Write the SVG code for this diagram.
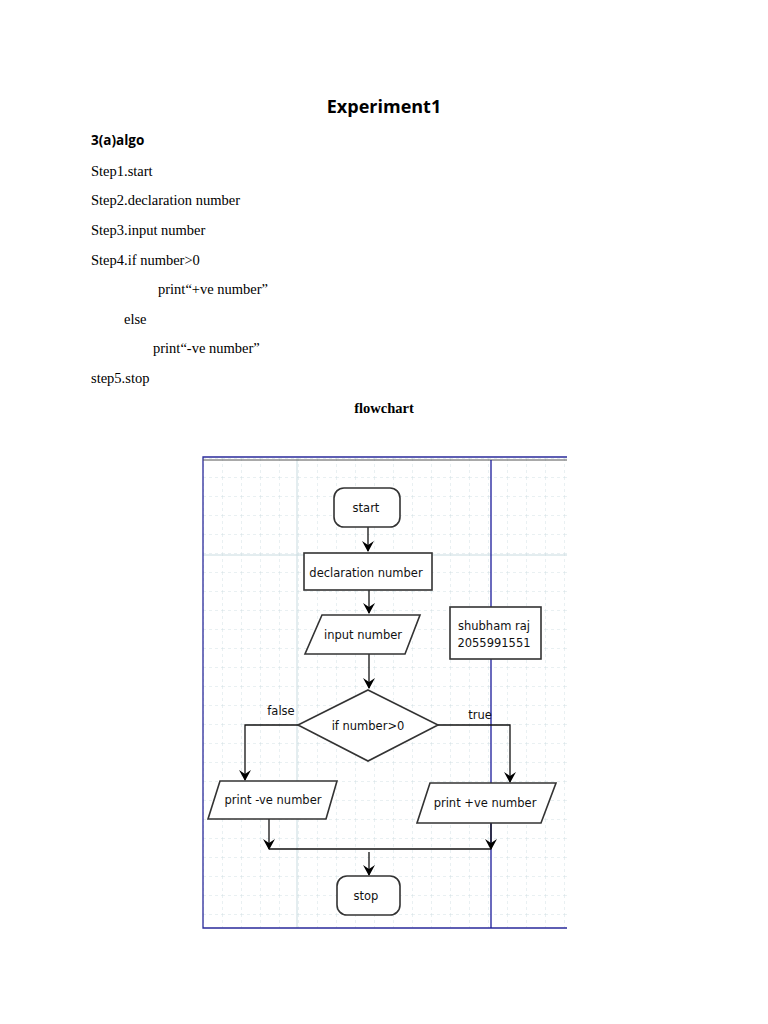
<svg xmlns="http://www.w3.org/2000/svg" width="768" height="1024" viewBox="0 0 768 1024">
<style>
.serif{font-family:"Liberation Serif",serif;font-size:14.5px;fill:#000}
.fc{font-family:"DejaVu Sans","Liberation Sans",sans-serif;font-size:11.5px;fill:#111;text-anchor:middle}
.shape{fill:#fff;stroke:#333;stroke-width:1.6}
.ln{fill:none;stroke:#111;stroke-width:1.3}
</style>
<defs>
<pattern id="grid" x="203" y="458" width="19" height="19" patternUnits="userSpaceOnUse">
<path d="M0 0H19M0 0V19" fill="none" stroke="#c8dbe0" stroke-width="0.8" stroke-dasharray="3 3"/>
</pattern>
<marker id="ah" markerWidth="10" markerHeight="10" refX="5" refY="9" orient="auto" markerUnits="userSpaceOnUse" viewBox="0 0 10 10">
<path d="M0 0L5 10L10 0L5 4Z" fill="#000" transform="rotate(0)"/>
</marker>
<marker id="ad" markerWidth="12" markerHeight="12" refX="6" refY="11" markerUnits="userSpaceOnUse" viewBox="0 0 12 12">
<path d="M0 1L6 12L12 1L6 5Z" fill="#000"/>
</marker>
</defs>
<rect width="768" height="1024" fill="#fff"/>
<text x="384" y="113" text-anchor="middle" style="font-family:'Open Sans','Liberation Sans',sans-serif;font-size:18px;font-weight:bold">Experiment1</text>
<text x="91" y="145" style="font-family:'Open Sans','Liberation Sans',sans-serif;font-size:13.5px;font-weight:bold">3(a)algo</text>
<text class="serif" x="91" y="176">Step1.start</text>
<text class="serif" x="91" y="205">Step2.declaration number</text>
<text class="serif" x="91" y="235">Step3.input number</text>
<text class="serif" x="91" y="265">Step4.if number&gt;0</text>
<text class="serif" x="158" y="294">print“+ve number”</text>
<text class="serif" x="124" y="324">else</text>
<text class="serif" x="153" y="353">print“-ve number”</text>
<text class="serif" x="91" y="383">step5.stop</text>
<text class="serif" x="384" y="413" text-anchor="middle" font-weight="bold">flowchart</text>

<g id="frame">
<rect x="203" y="458" width="364" height="470" fill="url(#grid)"/>
<line x1="297" y1="458" x2="297" y2="928" stroke="#c8dbe0" stroke-width="1"/>
<line x1="203" y1="555" x2="567" y2="555" stroke="#c8dbe0" stroke-width="1"/>
<path d="M567 457H203V928H567" fill="none" stroke="#2a2a9a" stroke-width="1.3"/>
<line x1="203" y1="460" x2="567" y2="460" stroke="#555" stroke-width="1"/>
<line x1="491" y1="460" x2="491" y2="928" stroke="#1a1a9a" stroke-width="1.3"/>
</g>

<g id="connectors">
<path class="ln" d="M368 527V551" marker-end="url(#ad)"/>
<path class="ln" d="M369 590V613" marker-end="url(#ad)"/>
<path class="ln" d="M369 654V688" marker-end="url(#ad)" stroke="#888"/>
<path class="ln" d="M298 725H245V780" marker-end="url(#ad)"/>
<path class="ln" d="M438 725H510V782" marker-end="url(#ad)"/>
<path class="ln" d="M269 819V849" marker-end="url(#ad)"/>
<path class="ln" d="M491 823V849" marker-end="url(#ad)"/>
<path class="ln" d="M269 849H491"/>
<path class="ln" d="M369 852V875" marker-end="url(#ad)" stroke="#888"/>
<text class="fc" x="281" y="715">false</text>
<text class="fc" x="480" y="719">true</text>
</g>

<g id="start"><rect class="shape" x="334" y="488" width="66" height="39" rx="10"/><text class="fc" x="366" y="512">start</text></g>
<g id="declaration"><rect class="shape" x="304" y="553" width="128" height="37"/><text class="fc" x="366" y="577">declaration number</text></g>
<g id="input"><path class="shape" d="M322 615H420L405 654H305Z"/><text class="fc" x="363" y="639">input number</text></g>
<g id="name"><rect class="shape" x="450" y="607" width="91" height="52"/><text class="fc" x="494" y="630">shubham raj</text><text class="fc" x="494" y="647">2055991551</text></g>
<g id="decision"><path class="shape" d="M368 690L438 725L368 761L298 725Z"/><text class="fc" x="368" y="730">if number&gt;0</text></g>
<g id="printneg"><path class="shape" d="M220 781H337L326 819H208Z"/><text class="fc" x="273" y="804">print -ve number</text></g>
<g id="printpos"><path class="shape" d="M430 783H556L541 823H417Z"/><text class="fc" x="485" y="807">print +ve number</text></g>
<g id="stop"><rect class="shape" x="337" y="876" width="63" height="39" rx="10"/><text class="fc" x="366" y="900">stop</text></g>
</svg>
